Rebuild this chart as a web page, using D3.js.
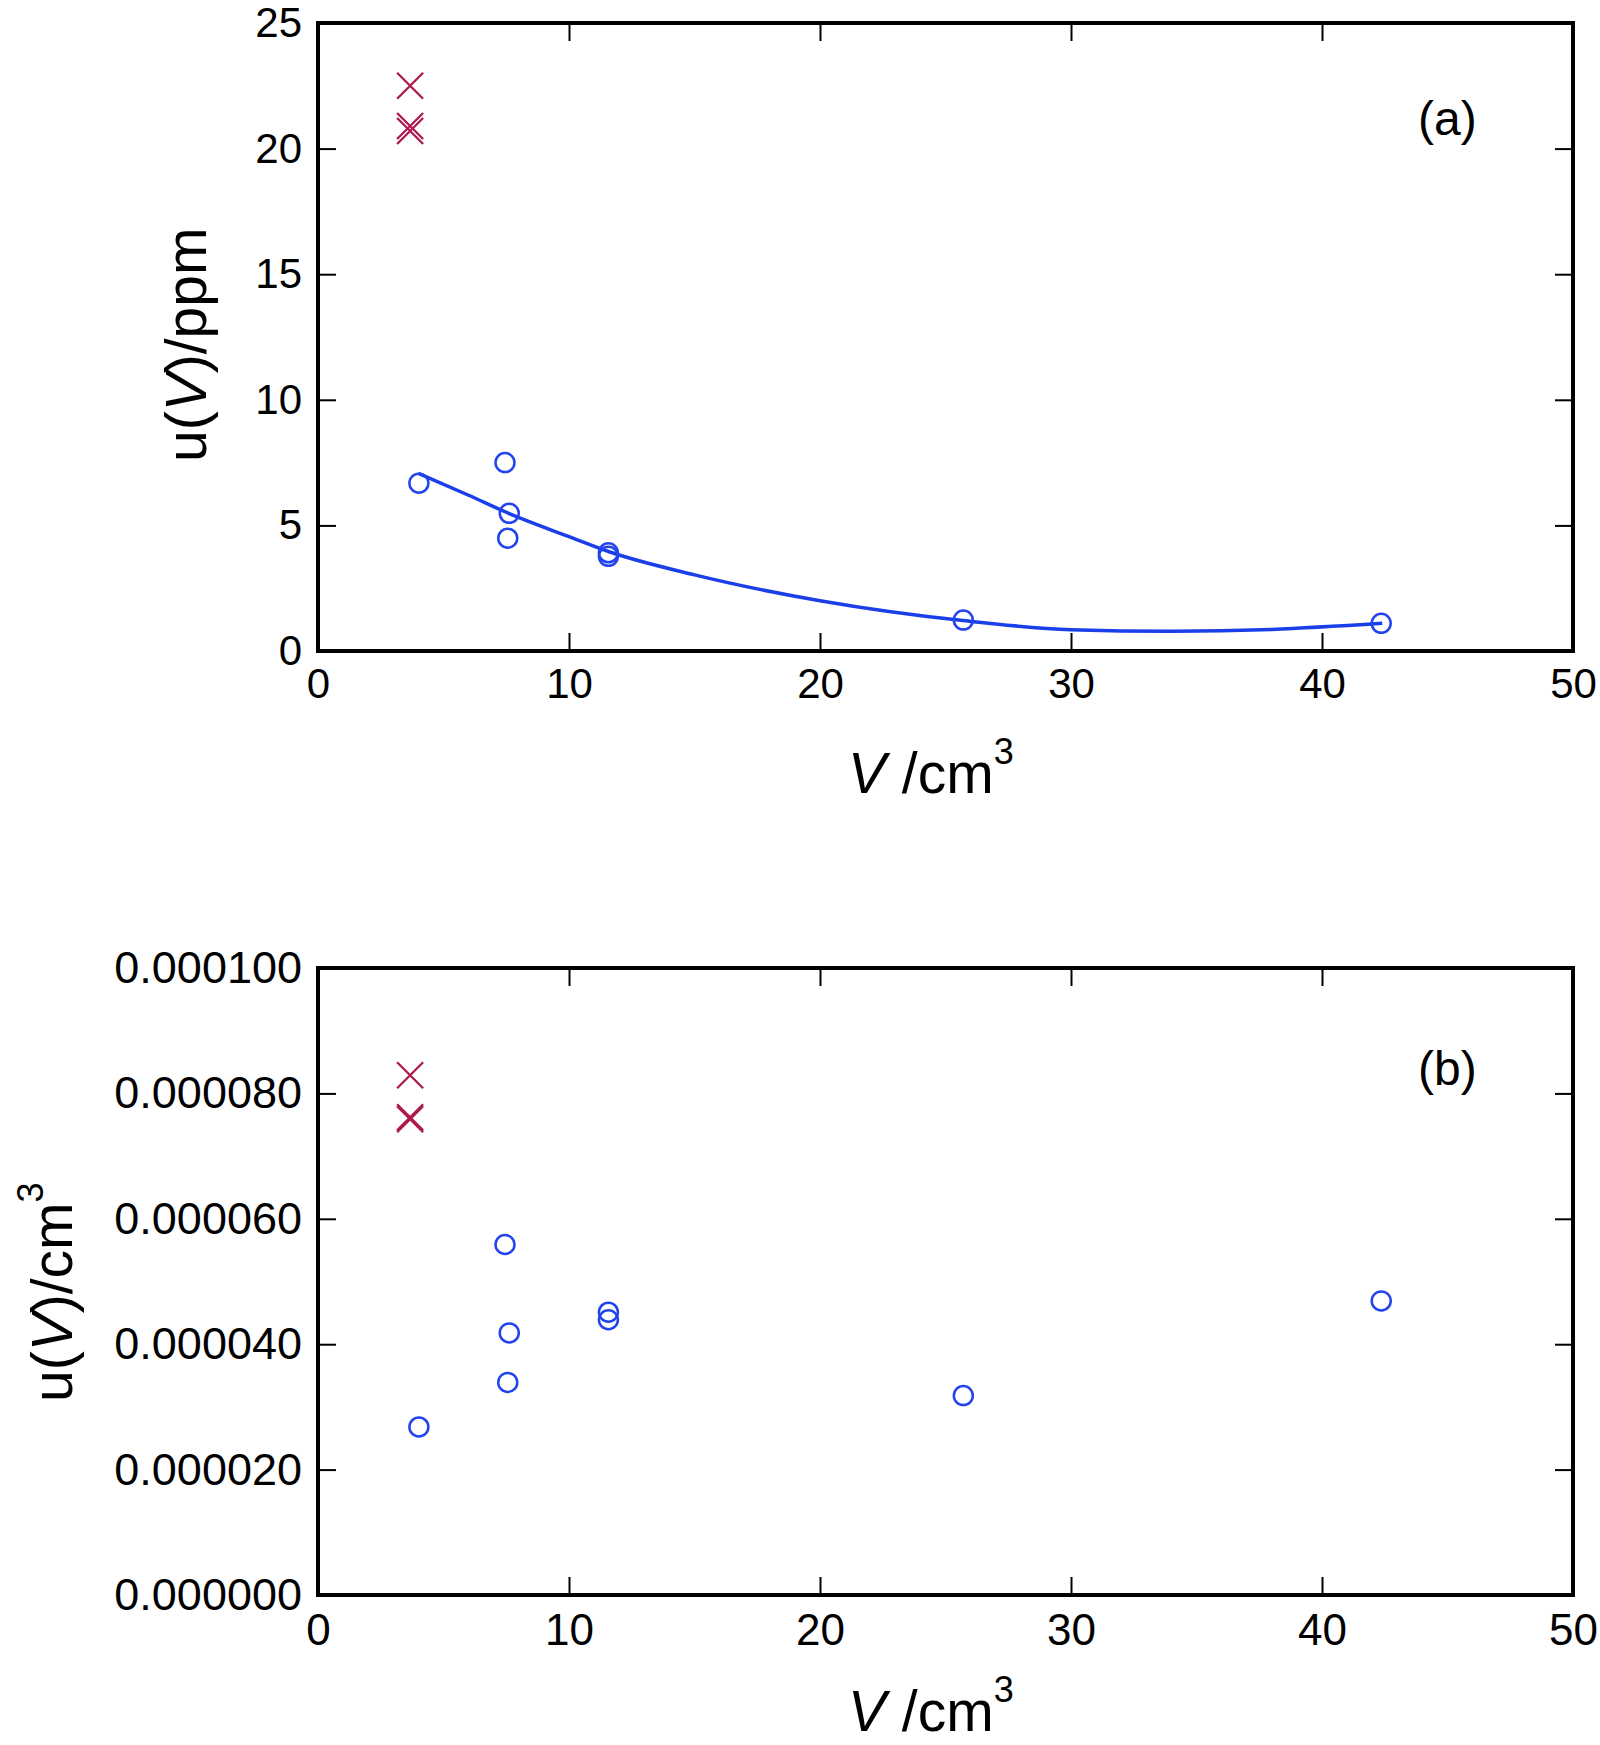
<!DOCTYPE html>
<html>
<head>
<meta charset="utf-8">
<script src="https://cdn.jsdelivr.net/npm/d3@7"></script>
<style>
  html, body { margin: 0; padding: 0; background: #fff; }
  svg { display: block; font-family: "Liberation Sans", Arial, Helvetica, sans-serif; }
</style>
</head>
<body>
<svg id="chart" width="1600" height="1745"></svg>
<script>
// ---------- data ----------
const circleV      = [4.02, 7.45, 7.62, 7.56, 11.57, 11.57, 25.71, 42.36];
const circlePpm    = [6.68, 7.50, 5.48, 4.49, 3.91, 3.77, 1.23, 1.10];
const circleCm3    = [26.8e-6, 55.9e-6, 41.8e-6, 33.9e-6, 45.1e-6, 43.9e-6, 31.8e-6, 46.9e-6];

const crossV       = [3.67, 3.67, 3.67];
const crossPpm     = [22.5, 20.9, 20.7];
const crossCm3     = [82.9e-6, 76.2e-6, 75.9e-6];

const fitV         = [4.0, 6.0, 7.6, 10.0, 11.6, 15.0, 20.0, 25.7, 30.0, 34.0, 38.0, 42.4];
const fitPpm       = [7.07, 6.20, 5.48, 4.55, 3.95, 3.03, 2.00, 1.21, 0.85, 0.79, 0.86, 1.10];

const xTicks       = [0, 10, 20, 30, 40, 50];
const yTicksA      = [0, 5, 10, 15, 20, 25];
const yTicksB      = [0, 20e-6, 40e-6, 60e-6, 80e-6, 100e-6];

// ---------- layout ----------
const svg = d3.select("#chart");
const X0 = 318, X1 = 1573;
const circleColor = "#2244ee";
const lineColor = "#1a3fe8";
const crossColor = "#ad1a4f";

function panel(opts) {
  const g = svg.append("g");
  const x = d3.scaleLinear().domain([0, 50]).range([X0, X1]);
  const y = d3.scaleLinear().domain(opts.yDomain).range([opts.bottom, opts.top]);
  const tick = 18;

  const ax = g.append("g").attr("transform", `translate(0,${opts.bottom})`)
    .call(d3.axisBottom(x).tickValues(xTicks).tickSize(-tick).tickPadding(opts.xPad).tickFormat(d3.format("d")));
  ax.selectAll("text").attr("font-size", opts.tickFont).attr("fill", "#000");
  g.append("g").attr("transform", `translate(0,${opts.top})`)
    .call(d3.axisTop(x).tickValues(xTicks).tickSize(-tick).tickFormat(""));
  const ay = g.append("g").attr("transform", `translate(${X0},0)`)
    .call(d3.axisLeft(y).tickValues(opts.yTicks).tickSize(-tick).tickPadding(16).tickFormat(opts.yFormat));
  ay.selectAll("text").attr("font-size", opts.yTickFont).attr("fill", "#000");
  g.append("g").attr("transform", `translate(${X1},0)`)
    .call(d3.axisRight(y).tickValues(opts.yTicks).tickSize(-tick).tickFormat(""));

  g.selectAll(".domain").remove();
  g.selectAll(".tick line").attr("stroke", "#000").attr("stroke-width", 2);

  g.append("rect").attr("x", X0).attr("y", opts.top)
    .attr("width", X1 - X0).attr("height", opts.bottom - opts.top)
    .attr("fill", "none").attr("stroke", "#000").attr("stroke-width", 4);

  if (opts.fit) {
    const line = d3.line().x(d => x(d[0])).y(d => y(d[1])).curve(d3.curveMonotoneX);
    g.append("path").datum(d3.zip(fitV, fitPpm))
      .attr("d", line).attr("fill", "none").attr("stroke", lineColor).attr("stroke-width", 3.5);
  }

  g.selectAll("circle.pt").data(d3.zip(circleV, opts.circ)).join("circle")
    .attr("class", "pt").attr("cx", d => x(d[0])).attr("cy", d => y(d[1])).attr("r", 9.5)
    .attr("fill", "none").attr("stroke", circleColor).attr("stroke-width", 2.5);

  const s = 13;
  g.selectAll("path.cross").data(d3.zip(crossV, opts.cross)).join("path")
    .attr("class", "cross")
    .attr("d", d => {
      const cx = x(d[0]), cy = y(d[1]);
      return `M${cx - s},${cy - s}L${cx + s},${cy + s}M${cx - s},${cy + s}L${cx + s},${cy - s}`;
    })
    .attr("fill", "none").attr("stroke", crossColor).attr("stroke-width", 2.3);

  g.append("text").attr("x", 1418).attr("y", opts.labelY).attr("font-size", 48).text(opts.label);

  const xt = g.append("text").attr("x", 848).attr("y", opts.xTitleY).attr("font-size", 57);
  xt.append("tspan").attr("font-style", "italic").text("V");
  xt.append("tspan").text(" /cm");
  xt.append("tspan").attr("font-size", 36).attr("dy", -29).text("3");

  const yt = g.append("text")
    .attr("transform", `translate(${opts.yTitleX},${opts.yTitleY}) rotate(-90)`)
    .attr("font-size", 57).attr("text-anchor", "start");
  yt.append("tspan").text("u(");
  yt.append("tspan").attr("font-style", "italic").text("V");
  yt.append("tspan").text(")/" + opts.yUnit);
  if (opts.yUnitSup) yt.append("tspan").attr("font-size", 36).attr("dy", -29).text(opts.yUnitSup);
}

panel({
  top: 23, bottom: 651, yDomain: [0, 25], yTicks: yTicksA, yFormat: d3.format("d"),
  tickFont: 42, yTickFont: 42, xPad: 17,
  circ: circlePpm, cross: crossPpm, fit: true,
  label: "(a)", labelY: 135, xTitleY: 793,
  yTitleX: 206, yTitleY: 462, yUnit: "ppm"
});

panel({
  top: 968, bottom: 1595, yDomain: [0, 100e-6], yTicks: yTicksB, yFormat: d3.format(".6f"),
  tickFont: 44, yTickFont: 45, xPad: 19,
  circ: circleCm3, cross: crossCm3, fit: false,
  label: "(b)", labelY: 1085, xTitleY: 1731,
  yTitleX: 72, yTitleY: 1402, yUnit: "cm", yUnitSup: "3"
});
</script>
</body>
</html>
